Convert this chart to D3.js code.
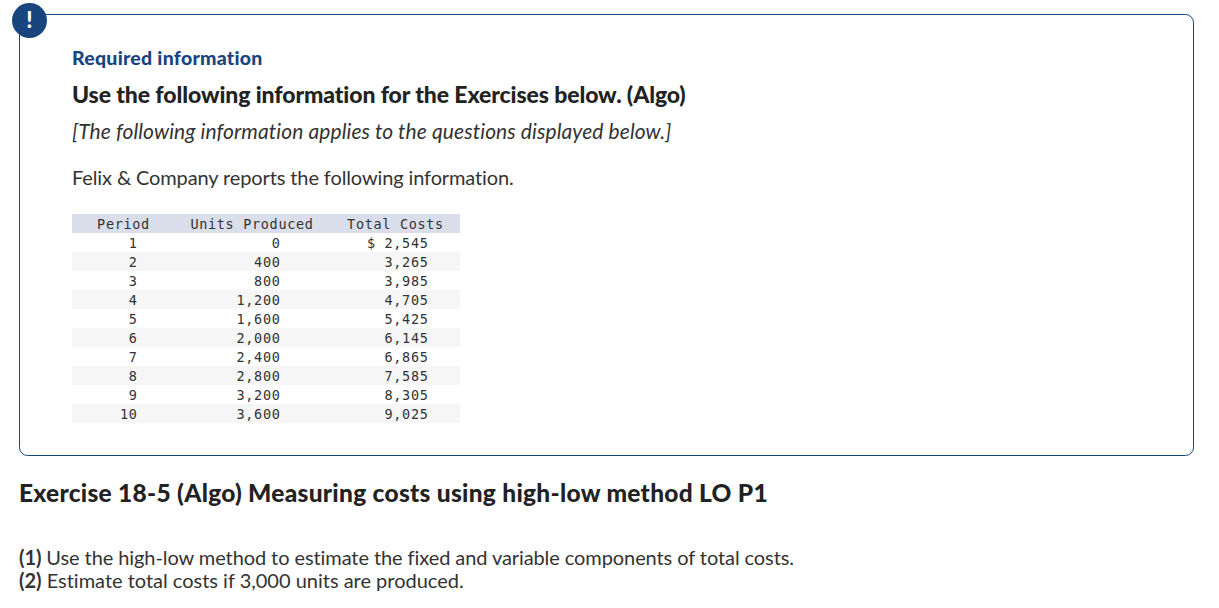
<!DOCTYPE html>
<html>
<head>
<meta charset="utf-8">
<script src="https://cdn.jsdelivr.net/npm/d3@7"></script>
<style>
html, body { margin: 0; padding: 0; background: #fff; overflow: hidden; }
svg { display: block; }
text { font-family: Lato, "Open Sans", sans-serif; fill: #2b2b2b; }
.mono { font-family: "DejaVu Sans Mono", monospace; font-size: 13.5px; letter-spacing: 0.67px; fill: #333; }
</style>
</head>
<body>
<svg></svg>
<script>
var columns = ["Period", "Units Produced", "Total Costs"];
var periods = ["1", "2", "3", "4", "5", "6", "7", "8", "9", "10"];
var units = ["0", "400", "800", "1,200", "1,600", "2,000", "2,400", "2,800", "3,200", "3,600"];
var costs = ["$ 2,545", "3,265", "3,985", "4,705", "5,425", "6,145", "6,865", "7,585", "8,305", "9,025"];

var svg = d3.select("svg")
.attr("width", 1219)
.attr("height", 608);

var blue = "#19457f";

// outer box
svg.append("rect")
.attr("x", 19.5)
.attr("y", 14.5)
.attr("width", 1174)
.attr("height", 441)
.attr("rx", 8)
.attr("fill", "none")
.attr("stroke", blue)
.attr("stroke-width", 1);

// badge
svg.append("circle")
.attr("cx", 29.5)
.attr("cy", 20.5)
.attr("r", 17.5)
.attr("fill", blue);

svg.append("text")
.attr("x", 29.5)
.attr("y", 28)
.attr("text-anchor", "middle")
.style("font-size", "22px")
.style("font-weight", 900)
.style("fill", "#fff")
.text("!");

// stretch the text to the width it has in the picture, Lato runs narrower
function fit(sel, width) {
    var now = sel.node().getComputedTextLength();
    var n = sel.text().length;
    sel.style("letter-spacing", ((width - now) / n) + "px");
    return sel;
}

function label(x, y, size, weight, str, color, italic) {
    return svg.append("text")
    .attr("x", x)
    .attr("y", y)
    .style("font-size", size + "px")
    .style("font-weight", weight)
    .style("font-style", italic ? "italic" : "normal")
    .style("fill", color || "#2b2b2b")
    .text(str);
}

fit(label(72, 65, 19.5, 900, "Required information", blue), 191);
fit(label(72, 102.5, 23, 900, "Use the following information for the Exercises below. (Algo)", "#222"), 614);
fit(label(72, 139, 21, 400, "[The following information applies to the questions displayed below.]", "#333", true), 599);
fit(label(72, 185, 20, 400, "Felix & Company reports the following information.", "#333"), 442);

// table
var y = d3.scaleBand()
.domain(["head"].concat(periods))
.range([214, 423]);

var table = svg.append("g");

table.selectAll("rect")
.data(["head"].concat(periods))
.enter()
.append("rect")
.attr("x", 72)
.attr("y", d => y(d))
.attr("width", 388)
.attr("height", y.bandwidth())
.attr("fill", (d, i) => i == 0 ? "#d9deea" : (i % 2 == 0 ? "#f6f6f6" : "#fff"));

var colX = [123.5, 252, 395.5];
var rightX = [137.5, 280.5, 428.5];

table.selectAll(".head")
.data(columns)
.enter()
.append("text")
.attr("class", "mono head")
.attr("x", (d, i) => colX[i])
.attr("y", y("head") + 15)
.attr("text-anchor", "middle")
.text(d => d);

var cols = [periods, units, costs];
cols.forEach(function(list, c) {
    table.selectAll(".col" + c)
    .data(list)
    .enter()
    .append("text")
    .attr("class", "mono col" + c)
    .attr("x", rightX[c])
    .attr("y", (d, i) => y(periods[i]) + 14.5)
    .attr("text-anchor", "end")
    .text(d => d);
});

fit(label(19, 502, 24.5, 900, "Exercise 18-5 (Algo) Measuring costs using high-low method LO P1", "#222"), 749);

var q1 = label(19, 565, 20, 400, "", "#333");
q1.append("tspan").style("font-weight", 700).text("(1)");
q1.append("tspan").text(" Use the high-low method to estimate the fixed and variable components of total costs.");
fit(q1, 775);
var q2 = label(19, 588, 20, 400, "", "#333");
q2.append("tspan").style("font-weight", 700).text("(2)");
q2.append("tspan").text(" Estimate total costs if 3,000 units are produced.");
fit(q2, 445);
</script>
</body>
</html>
